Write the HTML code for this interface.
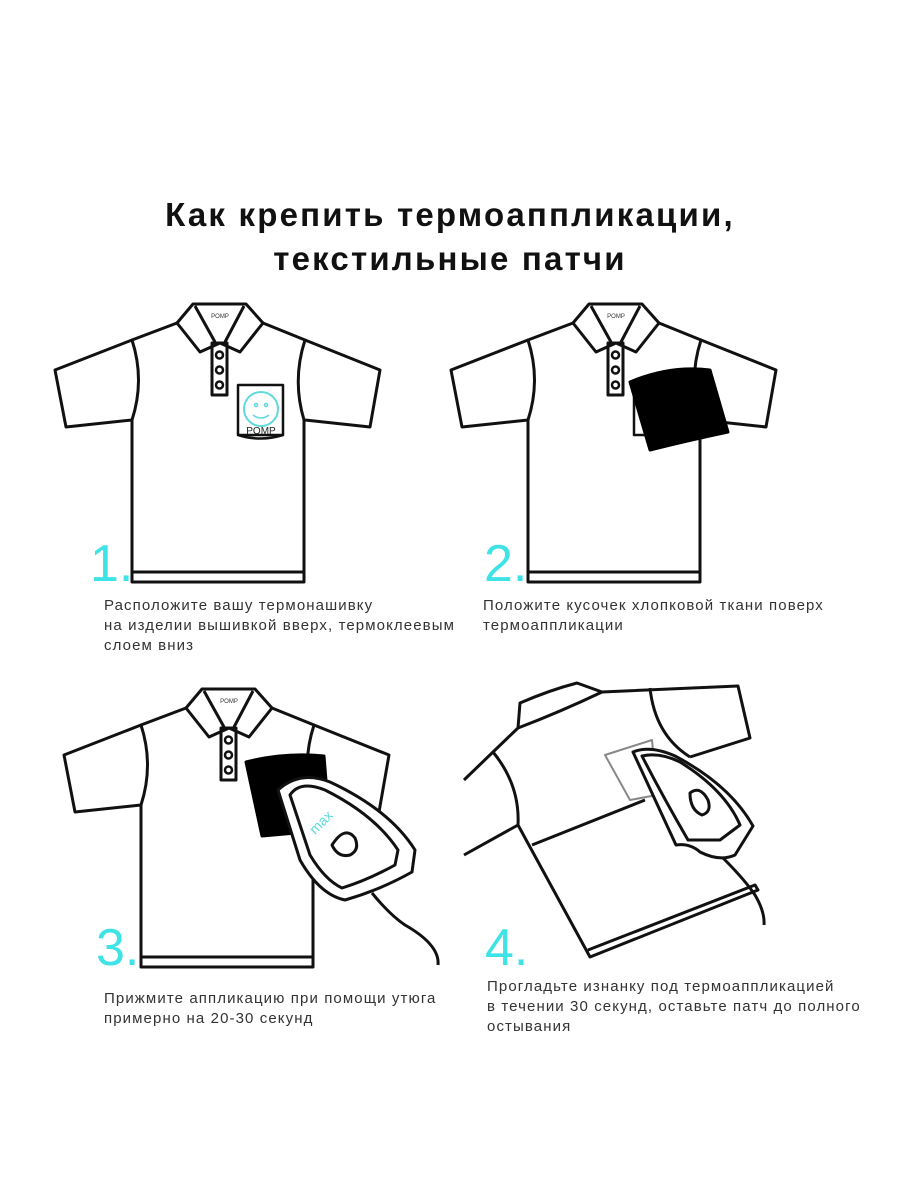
<!DOCTYPE html>
<html><head><meta charset="utf-8"><style>
body{margin:0;background:#fff;width:900px;height:1200px;position:relative;overflow:hidden;font-family:"Liberation Sans",sans-serif}
.t{position:absolute;left:0;width:900px;text-align:center;font-weight:bold;font-size:33px;color:#111;letter-spacing:2.2px}
.p{position:absolute;font-size:15px;line-height:20px;color:#333;letter-spacing:1.1px;white-space:nowrap}
.n{position:absolute;font-size:52px;color:#3fe3e6;line-height:1}
</style></head><body>
<div class="t" style="top:196px">Как крепить термоаппликации,</div>
<div class="t" style="top:240px">текстильные патчи</div>
<svg width="900" height="1200" style="position:absolute;left:0;top:0" fill="none" stroke="#111" stroke-width="3" stroke-linejoin="round">
<defs><g id="shirt">
<path d="M193 304H246L263 323L240 352L220 343L200 352L177 323Z" fill="#fff"/>
<path d="M195 306L215 342M244 306L225 342"/>
<rect x="212" y="343" width="15" height="52"/>
<circle cx="219.5" cy="355" r="3.5" stroke-width="2.5"/><circle cx="219.5" cy="370" r="3.5" stroke-width="2.5"/><circle cx="219.5" cy="385" r="3.5" stroke-width="2.5"/>
<path d="M177 323L132 340Q145 380 132 420L132 582H304V420Q292 380 305 340L263 323"/>
<path d="M132 340L55 370L66 427L132 420M305 340L380 370L370 427L305 420"/>
<path d="M132 572H304"/>
<text x="220" y="318" font-size="6" fill="#333" stroke="none" text-anchor="middle" font-family="Liberation Sans">POMP</text>
</g></defs>
<use href="#shirt"/>
<rect x="238" y="385" width="45" height="50" fill="#fff" stroke-width="2.5"/>
<path d="M238 435Q260 442 283 435" stroke-width="2.5"/>
<circle cx="261" cy="409" r="17" stroke="#5fd9dc" stroke-width="2"/>
<circle cx="256" cy="405" r="1.5" stroke="#5fd9dc" stroke-width="1.5"/><circle cx="266" cy="405" r="1.5" stroke="#5fd9dc" stroke-width="1.5"/>
<path d="M253 415Q261 421 269 415" stroke="#5fd9dc" stroke-width="1.5"/>
<text x="261" y="434" font-size="10" fill="#222" stroke="none" text-anchor="middle" font-family="Liberation Sans">POMP</text>
<use href="#shirt" x="396"/>
<rect x="634" y="385" width="45" height="50" fill="#fff" stroke-width="2.5"/>
<path d="M630 382Q670 365 710 370L728 432Q690 440 650 450Z" fill="#000" stroke="#000"/>
<use href="#shirt" x="9" y="385"/>
<path d="M246 762Q285 752 324 756L330 830L262 836Z" fill="#000" stroke="#000"/>
<path d="M278 790Q300 770 330 782Q390 810 415 850L412 872Q380 890 345 900Q320 895 300 860Z" fill="#fff"/>
<path d="M290 795Q300 780 325 790Q375 815 398 850L395 865Q368 880 342 888Q325 880 310 855Z"/>
<path d="M332 845Q345 825 355 838Q360 850 350 855Q338 858 332 845Z"/>
<path d="M372 893Q390 915 405 925Q440 945 438 965"/>
<text x="315" y="835" font-size="14" fill="#5fd9dc" stroke="none" transform="rotate(-45 315 835)" font-family="Liberation Sans">max</text>
<path d="M520 703Q550 690 577 683L602 692Q560 712 518 728Z"/>
<path d="M602 692L738 686L750 738L690 757M650 688Q655 735 690 757"/>
<path d="M518 728L493 752L464 780M493 752Q520 785 518 825L464 855M518 825L590 957L758 890L755 885L588 950M532 845L645 800"/>
<path d="M605 755L652 740L657 795L630 800Z" stroke="#888" stroke-width="2"/>
<path d="M633 752Q650 745 675 756Q730 785 753 826L735 855Q720 862 700 852Q690 843 676 845Q655 800 633 752Z" fill="#fff"/>
<path d="M642 756Q660 752 680 762Q725 790 740 825L720 840L688 840Q662 795 642 756Z"/>
<path d="M690 793Q700 785 708 800Q712 812 702 815Q690 810 690 793Z"/>
<path d="M723 858Q745 880 755 895Q765 912 764 925"/>
</svg>
<div class="n" style="left:90px;top:538px">1.</div>
<div class="n" style="left:484px;top:538px">2.</div>
<div class="n" style="left:96px;top:922px">3.</div>
<div class="n" style="left:485px;top:922px">4.</div>
<div class="p" style="left:104px;top:596px">Расположите вашу термонашивку<br>на изделии вышивкой вверх, термоклеевым<br>слоем вниз</div>
<div class="p" style="left:483px;top:596px">Положите кусочек хлопковой ткани поверх<br>термоаппликации</div>
<div class="p" style="left:104px;top:989px">Прижмите аппликацию при помощи утюга<br>примерно на 20-30 секунд</div>
<div class="p" style="left:487px;top:977px">Прогладьте изнанку под термоаппликацией<br>в течении 30 секунд, оставьте патч до полного<br>остывания</div>
</body></html>
